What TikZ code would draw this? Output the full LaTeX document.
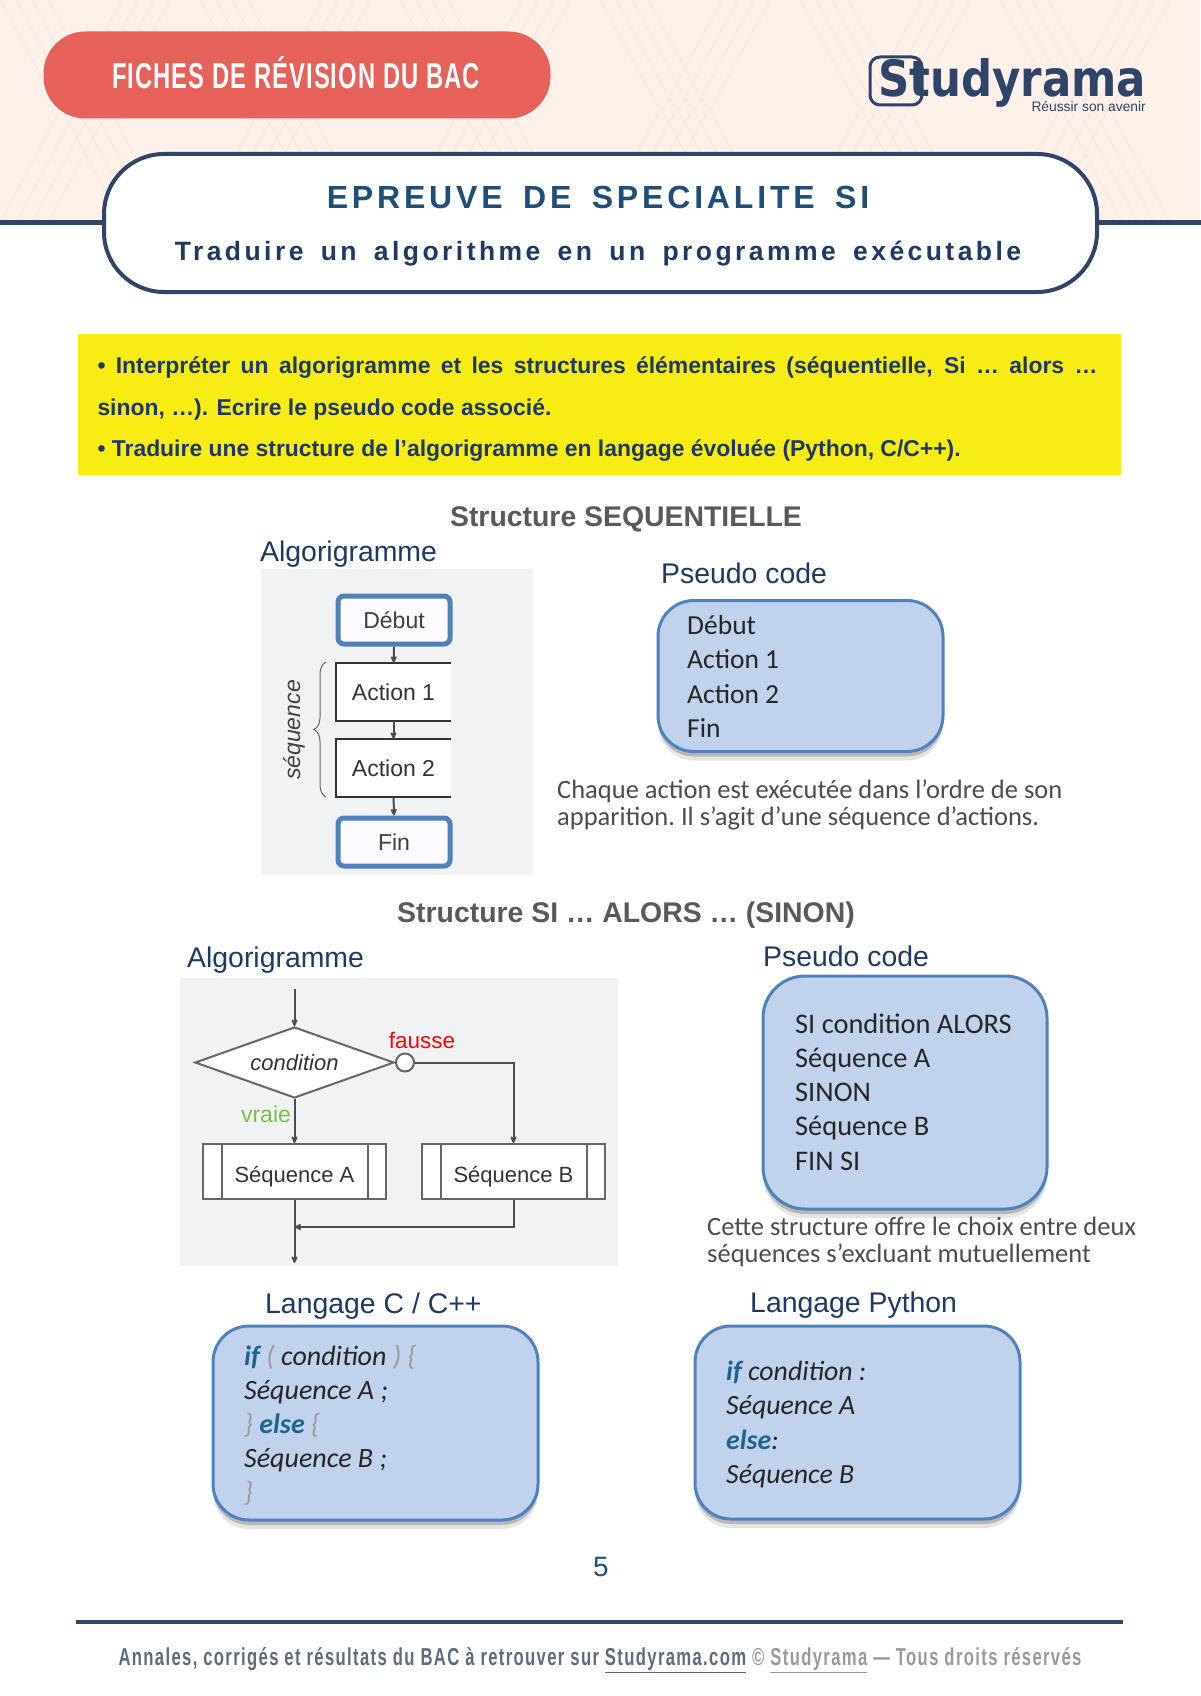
\documentclass[tikz,border=0pt]{standalone}
\usepackage{fontspec}
\setmainfont{Liberation Sans}
\newfontfamily\carlito{Carlito}
\newfontfamily\logofont[FakeStretch=0.87]{DejaVu Sans}
\newfontfamily\narrowfont[FakeStretch=0.66,LetterSpace=3]{Liberation Sans}
\newfontfamily\footfont[FakeStretch=0.68,LetterSpace=5.5]{Liberation Sans}
\newfontfamily\titlefont[LetterSpace=12,WordSpace=1.6]{Liberation Sans}
\newfontfamily\subtitlefont[LetterSpace=13,WordSpace=1.6]{Liberation Sans}
\usetikzlibrary{positioning,calc,arrows.meta,shapes.geometric,shadows,decorations.pathreplacing}
\definecolor{navy}{HTML}{1F3864}
\definecolor{titleblue}{HTML}{1F4E79}
\definecolor{framenavy}{HTML}{2F4468}
\definecolor{band}{HTML}{FDF1EA}
\definecolor{bandline}{HTML}{FAE9DF}
\definecolor{salmon}{HTML}{E5615A}
\definecolor{boxfill}{HTML}{C1D2EC}
\definecolor{boxline}{HTML}{4F81BD}
\definecolor{flowgray}{HTML}{F1F2F3}
\definecolor{ifblue}{HTML}{1F6391}
\definecolor{marker}{HTML}{F7EC13}
\definecolor{okgreen}{HTML}{7AC143}
\definecolor{footgray}{HTML}{5F6B7C}

\begin{document}
\begin{tikzpicture}[x=1pt, y=-1pt, >={Stealth[round, length=9pt, width=8pt]},
  label/.style = {anchor=west, inner sep=0pt, text=navy, font=\fontsize{28.4}{32}\selectfont},
  heading/.style = {inner sep=0pt, text=black!65, font=\bfseries\fontsize{28.4}{32}\selectfont},
  bubble/.style = {draw=boxline, line width=3pt, fill=boxfill, rounded corners=36pt, minimum width=#1, inner sep=0pt, drop shadow={shadow xshift=0pt, shadow yshift=-9pt, opacity=.1, fill=black}, drop shadow={shadow xshift=0pt, shadow yshift=-5pt, opacity=.2, fill=black}},
  code/.style = {anchor=west, inner sep=0pt, align=left, text=black!85, font=\carlito\fontsize{27.5}{34.2}\selectfont},
  note/.style = {anchor=west, inner sep=0pt, align=left, text=black!70, font=\frenchspacing\carlito\fontsize{26.5}{27.5}\selectfont},
  terminal/.style = {draw=boxline, line width=5pt, fill=blue!2!white, rounded corners=6pt, minimum width=112pt, minimum height=48pt, inner sep=0pt, text=black!75, font=\fontsize{23}{26}\selectfont},
  step box/.style = {fill=white, minimum width=115pt, minimum height=58pt, inner sep=0pt, text=black!80, font=\fontsize{23}{26}\selectfont},
  sub box/.style = {draw=black!60, line width=2pt, fill=white, minimum width=183pt, minimum height=55pt, inner sep=0pt, text height=21pt, text depth=0pt, text=black!80, font=\fontsize{22}{26}\selectfont},
  every edge/.append style = {draw=black!70, line width=2pt}]

\useasboundingbox (0,0) rectangle (1200,1696);

\fill[band] (0,0) rectangle (1200,224);
\begin{scope} %header pattern
\clip (0,0) rectangle (1200,222);
\foreach \i in {-1,...,6} {
  \foreach \j in {0,16,32,48} {
    \draw[bandline, line width=1.5pt] ({\i*200+\j},0) -- ({\i*200+60+\j},110) -- ({\i*200+\j},222);
    \draw[bandline, line width=1.5pt] ({\i*200+170-\j},0) -- ({\i*200+110-\j},110) -- ({\i*200+170-\j},222);
  }
}
\end{scope}

\node[draw=none, fill=salmon, rounded corners=42pt, minimum width=507pt, minimum height=87pt] (banner) at (297,75) {};
\node[text=white, inner sep=0pt, font=\narrowfont\bfseries\fontsize{36}{40}\selectfont] (bannertext) at (296,73) {FICHES DE RÉVISION DU BAC};

%logo
\node[draw=framenavy, line width=3pt, rounded corners=10pt, minimum width=52pt, minimum height=48pt] (logobox) at (896,81) {};
\node[inner sep=0pt, anchor=base west, text depth=0pt, text=framenavy, font=\logofont\bfseries\fontsize{50}{54}\selectfont] (logo) at (878,97) {Studyrama};
\node[anchor=east, inner sep=0pt, text=framenavy, font=\fontsize{13.8}{14}\selectfont] (slogan) at (1146,106) {Réussir son avenir};

%title
\node[draw=framenavy, line width=4pt, fill=white, rounded corners=60pt, minimum width=993pt, minimum height=138pt] (titlebox) at (600.5,223) {};
\draw[framenavy, line width=5pt] (titlebox.west) -- ++(-104,0) coordinate (ruleleft);
\draw[framenavy, line width=5pt] (titlebox.east) -- ++(103,0) coordinate (ruleright);
\node[inner sep=0pt, text=titleblue, font=\titlefont\bfseries\fontsize{32}{36}\selectfont] (title) at (598,197) {EPREUVE DE SPECIALITE SI};
\node[inner sep=0pt, text=navy, font=\subtitlefont\bfseries\fontsize{26.5}{30}\selectfont] (subtitle) at (598,254) {Traduire un algorithme en un programme exécutable};

%objectives
\node[fill=marker, minimum width=1043pt, minimum height=141pt] (goals) at (599.5,404.5) {};
\node[text width=1000pt, inner sep=0pt, align=justify, text=navy, font=\bfseries\fontsize{22.9}{41.5}\selectfont] (goalstext) at (597.5,409.5) {• Interpréter un algorigramme et les structures élémentaires (séquentielle, Si … alors …\linebreak sinon, …). Ecrire le pseudo code associé.\\ • Traduire une structure de l’algorigramme en langage évoluée (Python, C/C++).};

%sequence
\node[heading] (seqtitle) at (626,519) {Structure SEQUENTIELLE};
\node[label] (seqalgo) at (260,554) {Algorigramme};
\node[label] (seqcode) at (661,573) {Pseudo code};
\fill[flowgray] (261,569) rectangle (533,875);
\node[terminal] (debut) at (394,620) {Début};
\node[step box] (action1) at (393.5,692) {Action 1};
\node[step box] (action2) at (393.5,768) {Action 2};
\node[terminal] (fin) at (394,842) {Fin};
\foreach \n in {action1,action2}
  \draw[black!80, line width=1.5pt] (\n.north east) -- (\n.north west) -- (\n.south west) -- (\n.south east);
\path[->]
    (debut) edge (action1)
    (action1) edge (action2)
    (action2) edge (fin);
\coordinate (bracetop) at (326,662);
\coordinate (bracebottom) at (326,797);
\draw[black!60, line width=1pt, decorate, decoration={brace, amplitude=12pt}] (bracebottom) -- (bracetop);
\node[rotate=90, inner sep=0pt, text=black!75, font=\itshape\fontsize{23}{26}\selectfont] (seqbrace) at (294,730) {séquence};
\node[bubble=285pt, minimum height=151pt] (seqbox) at (800.5,676) {};
\node[code] (seqlines) at (687,676.5) {Début\\Action 1\\Action 2\\Fin};
\node[note] (seqnote) at (557,805) {Chaque action est exécutée dans l’ordre de son\\apparition. Il s’agit d’une séquence d’actions.};

%si alors sinon
\node[heading] (ifctitle) at (626,915) {Structure SI … ALORS … (SINON)};
\node[label] (ifalgo) at (187,960) {Algorigramme};
\node[label] (ifcode) at (763,956) {Pseudo code};
\fill[flowgray] (180,978) rectangle (618,1266);
\coordinate (start) at (294.5,989);
\node[diamond, draw=black!60, line width=2pt, fill=white, aspect=2.8, minimum width=199pt, minimum height=71pt, inner sep=0pt, text=black!80, font=\itshape\fontsize{22}{26}\selectfont] (cond) at (294.5,1062.5) {condition};
\node[circle, draw=black!60, line width=2pt, fill=white, minimum size=18pt, inner sep=0pt, right=0pt of cond] (false) {};
\node[sub box] (seqa) at (294.5,1171.5) {Séquence A};
\node[sub box] (seqb) at (513.5,1171.5) {Séquence B};
\foreach \n/\a/\b in {seqa/222/368,seqb/441/587} {
  \draw[black!60, line width=2pt] (\a,1144) -- (\a,1199);
  \draw[black!60, line width=2pt] (\b,1144) -- (\b,1199);
}
\coordinate (merge) at (294.5,1227);
\coordinate (end) at (294.5,1263);
\path[->]
    (start) edge (cond)
    (cond) edge (seqa)
    (false) edge[to path={-| (\tikztotarget)}] (seqb)
    (seqb) edge[to path={|- (\tikztotarget)}] (merge)
    (seqa) edge (end);
\node[inner sep=0pt, text=red, font=\fontsize{22.5}{26}\selectfont] (fausse) at (422,1040) {fausse};
\node[inner sep=0pt, text=okgreen, font=\fontsize{23}{26}\selectfont] (vraie) at (266,1114) {vraie};
\node[bubble=284pt, minimum height=233pt, rounded corners=42pt] (ifbox) at (905,1092.5) {};
\node[code, font=\carlito\fontsize{28.4}{34.2}\selectfont] (iflines) at (795,1092) {SI condition ALORS\\Séquence A\\SINON\\Séquence B\\FIN SI};
\node[note] (ifnote) at (707,1242) {Cette structure offre le choix entre deux\\séquences s’excluant mutuellement};

%languages
\node[label] (clabel) at (265,1306) {Langage C / C++};
\node[label] (pylabel) at (750,1305) {Langage Python};
\node[bubble=325pt, minimum height=194pt] (cbox) at (375.5,1423) {};
\node[bubble=325pt, minimum height=193pt] (pybox) at (857.5,1422.5) {};
\node[code, font=\carlito\itshape\fontsize{28}{34}\selectfont] (clines) at (244,1425) {\textcolor{ifblue}{\bfseries if} \textcolor{black!40}{(} condition \textcolor{black!40}{) \{}\\Séquence A ;\\\textcolor{black!40}{\}} \textcolor{ifblue}{\bfseries else} \textcolor{black!40}{\{}\\Séquence B ;\\\textcolor{black!40}{\}}};
\node[code, font=\carlito\itshape\fontsize{27.8}{34.3}\selectfont] (pylines) at (726,1424.5) {\textcolor{ifblue}{\bfseries if} condition :\\Séquence A\\\textcolor{ifblue}{\bfseries else}:\\Séquence B};

%footer
\node[inner sep=0pt, text=titleblue, font=\fontsize{28}{32}\selectfont] (page) at (601,1567) {5};
\coordinate (footleft) at (76,1622);
\coordinate (footright) at (1123,1622);
\draw[framenavy, line width=3.5pt] (footleft) -- (footright);
\node[inner sep=0pt, text=footgray, font=\footfont\bfseries\fontsize{24.5}{28}\selectfont] (foottext) at (600,1660) {Annales, corrigés et résultats du BAC à retrouver sur \underline{Studyrama.com} \textcolor{black!40}{© \underline{Studyrama} — Tous droits réservés}};
\end{tikzpicture}
\end{document}
